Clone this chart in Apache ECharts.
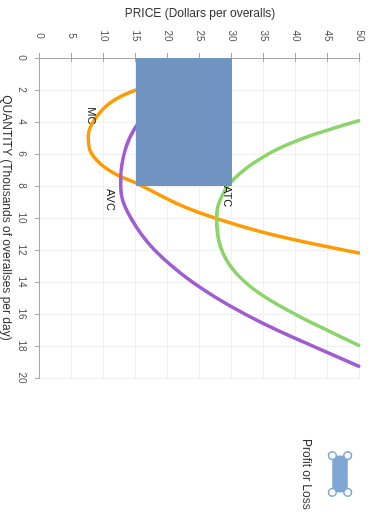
<!DOCTYPE html>
<html>
<head>
<meta charset="utf-8">
<script src="https://cdn.jsdelivr.net/npm/echarts@6/dist/echarts.min.js"></script>
<style>
html, body { margin: 0; padding: 0; width: 375px; height: 520px; overflow: hidden; background: #fff; }
/* chart is laid out landscape and turned a quarter clockwise */
#chart { position: absolute; left: 0; top: 0; width: 520px; height: 375px;
  transform-origin: 0 0; transform: translate(375px, 0) rotate(90deg); }
</style>
</head>
<body>
<div id="chart"></div>
<script>
// [quantity (thousands), price ($)]
const mcData = [[1.2, 21], [2.0, 15], [2.67, 11.45], [3.67, 8.85], [4.9, 7.55], [5.75, 7.8], [6.6, 9.4],
  [7.3, 12.0], [7.83, 15.1], [9.19, 21.9], [10.1, 28.1], [11.06, 36.5], [12.2, 50]];
const avcData = [[3.5, 16.8], [4.4, 14.8], [5.75, 13.3], [7.6, 12.6], [8.5, 12.7], [9.3, 13.3], [10, 14.2],
  [11, 15.8], [12, 17.9], [13, 20.6], [14, 23.8], [15, 27.6], [16, 32.0], [17, 37.0], [18, 42.6], [19.3, 50]];
const atcData = [[3.9, 50], [4.4, 45.8], [5.1, 40.6], [6.06, 35.4], [7.6, 30.2], [8.9, 28.1], [10.0, 27.6],
  [11.8, 28.2], [13.25, 30.2], [14.6, 33.9], [16, 39.8], [17.0, 44.8], [18.0, 50]];
// [qFrom, qTo, priceLow, priceHigh]
const profitRect = [[0, 8, 15, 30]];
// [text, quantity, price]
const curveLabels = [['MC', 3.62, 7.97], ['AVC', 8.87, 11.0], ['ATC', 8.66, 29.2]];

const font = "'Liberation Sans', Arial, sans-serif";
const axisGrey = '#a6a6a6';

// legend icon: box with ring handles on its corners
function ring(cx, cy, r, ri) {
  return 'M' + (cx + r) + ' ' + cy + 'A' + r + ' ' + r + ' 0 1 1 ' + (cx - r) + ' ' + cy +
    'A' + r + ' ' + r + ' 0 1 1 ' + (cx + r) + ' ' + cy + 'Z' +
    'M' + (cx + ri) + ' ' + cy + 'A' + ri + ' ' + ri + ' 0 1 0 ' + (cx - ri) + ' ' + cy +
    'A' + ri + ' ' + ri + ' 0 1 0 ' + (cx + ri) + ' ' + cy + 'Z';
}
const handleIcon = 'path://M7.5 4.5L37.5 4.5A3 3 0 0 0 40.5 7.5L40.5 16.5A3 3 0 0 0 37.5 19.5L7.5 19.5A3 3 0 0 0 4.5 16.5L4.5 7.5A3 3 0 0 0 7.5 4.5Z' +
  ring(4.5, 4.5, 4.5, 3) + ring(40.5, 4.5, 4.5, 3) + ring(4.5, 19.5, 4.5, 3) + ring(40.5, 19.5, 4.5, 3);

function labelPoint(i) {
  let l = curveLabels[i];
  return {
    symbol: 'circle', symbolSize: 0,
    label: { show: true, position: 'inside', formatter: l[0], color: '#222', fontSize: 11, fontFamily: font },
    data: [{ coord: [l[1], l[2]] }]
  };
}

const chart = echarts.init(document.getElementById('chart'));
chart.setOption({
  animation: false,
  textStyle: { fontFamily: font },
  grid: { left: 58, right: 142, top: 15, bottom: 40, containLabel: false, outerBoundsMode: 'none' },
  legend: [
    {
      left: 451, top: 22, padding: 0, itemWidth: 46, itemHeight: 26, icon: handleIcon,
      itemStyle: { color: '#7ea6d4', borderWidth: 0 },
      formatter: () => '', data: ['Profit or Loss']
    },
    {
      left: 434, top: 63, padding: 0, itemWidth: 0, itemHeight: 0, itemGap: 0,
      itemStyle: { opacity: 0 },
      textStyle: { fontSize: 12, color: '#333', fontFamily: font },
      data: ['Profit or Loss']
    }
  ],
  xAxis: {
    type: 'value', min: 0, max: 20, interval: 2,
    name: 'QUANTITY (Thousands of overallses per day)',
    nameLocation: 'middle', nameGap: 24,
    nameTextStyle: { fontSize: 12, color: '#333' },
    axisLine: { show: true, lineStyle: { color: axisGrey } },
    axisTick: { show: true, length: 5, lineStyle: { color: axisGrey } },
    axisLabel: { fontSize: 10, color: '#555', margin: 13 },
    splitLine: { show: true, lineStyle: { color: '#f0f0f0' } }
  },
  yAxis: [
    {
      type: 'value', min: 0, max: 50, interval: 5,
      name: 'PRICE (Dollars per overalls)',
      nameLocation: 'middle', nameGap: 38,
      nameTextStyle: { fontSize: 12, color: '#333' },
      axisLine: { show: true, lineStyle: { color: axisGrey } },
      axisTick: { show: true, length: 5, lineStyle: { color: axisGrey } },
      axisLabel: { fontSize: 10, color: '#555', margin: 22, align: 'center' },
      splitLine: { show: true, lineStyle: { color: '#f0f0f0' } }
    },
    {
      // inner half of the crossing ticks
      type: 'value', min: 0, max: 50, interval: 5, position: 'left',
      axisLine: { show: false },
      axisTick: { show: true, inside: true, length: 4, lineStyle: { color: axisGrey } },
      axisLabel: { show: false },
      splitLine: { show: false }
    }
  ],
  series: [
    {
      name: 'MC', type: 'line', smooth: 0.4, symbol: 'none',
      lineStyle: { color: '#ff9a00', width: 3.5 }, itemStyle: { color: '#ff9a00' },
      data: mcData, markPoint: labelPoint(0)
    },
    {
      name: 'AVC', type: 'line', smooth: 0.4, symbol: 'none',
      lineStyle: { color: '#a05cd2', width: 3.5 }, itemStyle: { color: '#a05cd2' },
      data: avcData, markPoint: labelPoint(1)
    },
    {
      name: 'ATC', type: 'line', smooth: 0.4, symbol: 'none',
      lineStyle: { color: '#8bd46a', width: 3.5 }, itemStyle: { color: '#8bd46a' },
      data: atcData, markPoint: labelPoint(2)
    },
    {
      name: 'Profit or Loss', type: 'custom', z: 5,
      itemStyle: { color: '#7093c2' },
      encode: { x: [0, 1], y: [2, 3] },
      renderItem: function (params, api) {
        let p1 = api.coord([api.value(0), api.value(3)]);
        let p2 = api.coord([api.value(1), api.value(2)]);
        return {
          type: 'rect',
          shape: { x: p1[0], y: p1[1], width: p2[0] - p1[0], height: p2[1] - p1[1] },
          style: { fill: api.visual('color') }
        };
      },
      data: profitRect
    }
  ]
});
</script>
</body>
</html>
